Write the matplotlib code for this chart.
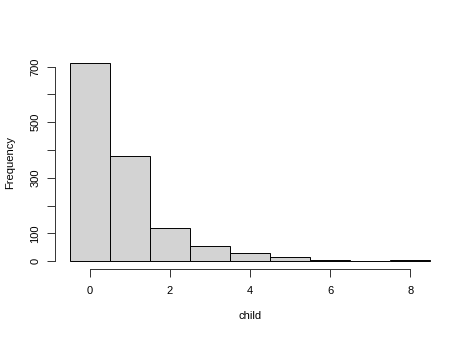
import numpy as np
import matplotlib.pyplot as plt

plt.rcParams['font.family'] = ['Liberation Sans', 'DejaVu Sans']

# histogram of child: bins of width 1 centred on 0..8
bin_edges = [-0.5, 0.5, 1.5, 2.5, 3.5, 4.5, 5.5, 6.5, 7.5, 8.5]
counts = [713, 378, 119, 54, 29, 14, 4, 1, 3]
x_ticks = [0, 2, 4, 6, 8]
y_ticks = [0, 100, 200, 300, 400, 500, 600, 700]
y_labels = ['0', '100', '', '300', '', '500', '', '700']

fig = plt.figure(figsize=(4.74, 3.38), dpi=100)
ax = fig.add_axes([0.117, 0.204, 0.821, 0.633])

lefts = np.array(bin_edges[:-1])
widths = np.diff(bin_edges)
ax.bar(lefts, counts, width=widths, align='edge', color='#D3D3D3',
       edgecolor='black', linewidth=0.7)

ax.set_xlim(-0.86, 8.86)
ax.set_ylim(-28.5, 741.5)

for s in ['top', 'right']:
    ax.spines[s].set_visible(False)
ax.spines['left'].set_bounds(0, 700)
ax.spines['bottom'].set_bounds(0, 8)
for s in ['left', 'bottom']:
    ax.spines[s].set_linewidth(0.7)
    ax.spines[s].set_color('#333333')

ax.set_xticks(x_ticks)
ax.set_yticks(y_ticks)
ax.set_yticklabels(y_labels, rotation=90, va='center')
ax.tick_params(length=6, width=0.7, color='#333333', labelsize=8)
ax.tick_params(axis='x', pad=6)
ax.tick_params(axis='y', pad=5)

ax.set_xlabel('child', fontsize=8, labelpad=11)
ax.set_ylabel('Frequency', fontsize=8, labelpad=11)

fig.savefig('out.png', dpi=100)
